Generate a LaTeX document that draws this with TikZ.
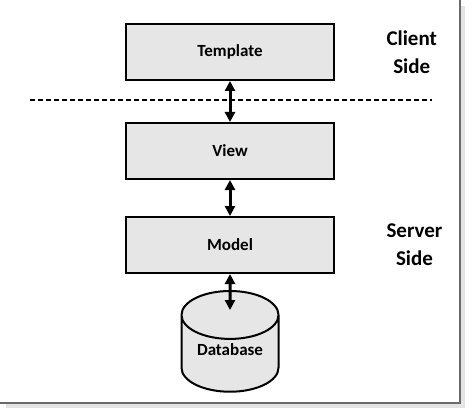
\documentclass[tikz,border=0pt]{standalone}
\usepackage{fontspec}
\setmainfont{Carlito}
\usetikzlibrary{positioning,shapes.geometric,arrows.meta}
\definecolor{boxgray}{HTML}{E6E6E6}
\definecolor{framegray}{HTML}{6A6A6A}
\definecolor{shadowgray}{HTML}{E4E4E4}

\begin{document}
\begin{tikzpicture}[x=1pt, y=-1pt, -, >={Triangle[length=10pt,width=10pt]}, node distance=38pt,
    layer node/.style={rectangle, draw, line width=2pt, fill=boxgray, minimum width=208pt, minimum height=56pt, font=\bfseries\fontsize{17}{20}\selectfont},
    db node/.style={cylinder, shape border rotate=90, draw, line width=2pt, fill=boxgray, minimum width=97pt, minimum height=98pt, shape aspect=0.66, text depth=18pt, font=\bfseries\fontsize{17}{20}\selectfont},
    side node/.style={align=center, font=\bfseries\fontsize{21}{28}\selectfont},
    link/.style={<->, line width=3pt}]
                \useasboundingbox (0,0) rectangle (474,417);

                % frame with shadow
                \draw[shadowgray, line width=4pt] (463,6) -- (463,406) -- (6,406);
                \draw[framegray, line width=1.5pt] (460,0) -- (460,403) -- (0,403);

                \node[layer node] (tmpl) at (230,52) {Template};
                \node[layer node] (view) [below=41pt of tmpl] {View};
                \node[layer node] (model) [below=36pt of view] {Model};
                \node[db node] (db) [below=16pt of model] {Database};
                \coordinate (dbtop) at ([yshift=-20pt]db.top);

                \node[side node] (client) [right=48pt of tmpl] {Client\\Side};
                \node[side node] (server) [right=48pt of model] {Server\\Side};

                % client / server split
                \draw[line width=1.3pt, dash pattern=on 5pt off 3pt] (30,100) -- (432,100);

                \draw[link] (tmpl) -- (view);
                \draw[link] (view) -- (model);
                \draw[link] (model) -- (dbtop);
            \end{tikzpicture}
\end{document}
